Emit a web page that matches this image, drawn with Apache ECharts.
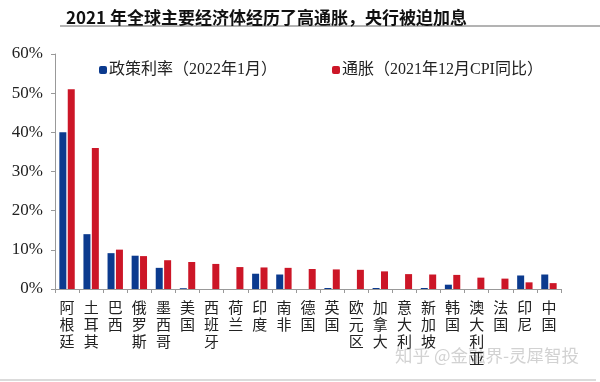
<!DOCTYPE html>
<html>
<head>
<meta charset="utf-8">
<script src="https://cdn.jsdelivr.net/npm/echarts@6/dist/echarts.min.js"></script>
<style>
html,body{margin:0;padding:0;background:#fff;}
#c{width:600px;height:382px;}
</style>
</head>
<body>
<div id="c"></div>
<script>
var categories = ['阿根廷','土耳其','巴西','俄罗斯','墨西哥','美国','西班牙','荷兰','印度','南非','德国','英国','欧元区','加拿大','意大利','新加坡','韩国','澳大利亚','法国','印尼','中国'];
var policyRate = [40, 14, 9.15, 8.5, 5.4, 0.2, 0, 0, 3.9, 3.7, 0, 0.25, 0, 0.25, 0, 0.25, 1.1, 0, 0, 3.45, 3.7];
var cpi = [51, 36, 10.05, 8.4, 7.35, 6.9, 6.4, 5.6, 5.5, 5.4, 5.1, 5.0, 4.9, 4.5, 3.8, 3.7, 3.6, 2.9, 2.65, 1.7, 1.5];
var yTicks = [0, 10, 20, 30, 40, 50, 60];
var seriesNames = ['政策利率（2022年1月）', '通胀（2021年12月CPI同比）'];
var titleText = '2021 年全球主要经济体经历了高通胀，央行被迫加息';
var watermark = '知乎 @金融界-灵犀智投';

var serif = '"Liberation Serif", "Noto Sans CJK SC", serif';
var chart = echarts.init(document.getElementById('c'), null, {renderer: 'canvas'});
chart.setOption({
  animation: false,
  backgroundColor: '#fff',
  title: {
    text: titleText, left: 61, top: 4,
    textStyle: {fontFamily: '"Noto Sans CJK SC", sans-serif', fontSize: 17, fontWeight: 'bold', color: '#111'}
  },
  graphic: [
    {type: 'line', shape: {x1: 60, y1: 26, x2: 600, y2: 26}, style: {stroke: '#9a9a9a', lineWidth: 1.5}},
    {type: 'line', shape: {x1: 0, y1: 380, x2: 596, y2: 380}, style: {stroke: '#cfcfcf', lineWidth: 1.5}},
    {type: 'text', left: 395, top: 347, style: {text: watermark, fill: '#d2d2d2', font: '17.5px "Noto Sans CJK SC", sans-serif'}}
  ],
  legend: [
    {data: [seriesNames[0]], left: 94, top: 57, itemWidth: 8, itemHeight: 8, itemGap: 4,
     textStyle: {fontFamily: serif, fontSize: 16, color: '#222', padding: [0,0,0,-3]}},
    {data: [seriesNames[1]], left: 327, top: 57, itemWidth: 8, itemHeight: 8, itemGap: 4,
     textStyle: {fontFamily: serif, fontSize: 16, color: '#222', padding: [0,0,0,-3]}}
  ],
  grid: {left: 55, right: 39, top: 54, bottom: 93, containLabel: false},
  xAxis: {
    type: 'category', data: categories,
    axisLine: {lineStyle: {color: '#999', width: 1}},
    axisTick: {show: true, length: 4, lineStyle: {color: '#999'}},
    axisLabel: {
      interval: 0, margin: 10, fontFamily: '"Noto Sans CJK SC", serif', fontSize: 15, lineHeight: 17, color: '#222',
      formatter: function (v) { return v.split('').join('\n'); }
    }
  },
  yAxis: {
    type: 'value', min: yTicks[0], max: yTicks[yTicks.length-1], interval: 10,
    axisLine: {show: true, lineStyle: {color: '#999', width: 1}},
    axisTick: {show: true, length: 4, lineStyle: {color: '#999'}},
    splitLine: {show: false},
    axisLabel: {margin: 12, fontFamily: serif, fontSize: 17, color: '#222', formatter: '{value}%'}
  },
  series: [
    {name: seriesNames[0], type: 'bar', data: policyRate, barWidth: 7, barGap: '20%',
     itemStyle: {color: '#0b3a8e'}},
    {name: seriesNames[1], type: 'bar', data: cpi, barWidth: 7, barGap: '20%',
     itemStyle: {color: '#cc1627'}}
  ]
});
</script>
</body>
</html>
